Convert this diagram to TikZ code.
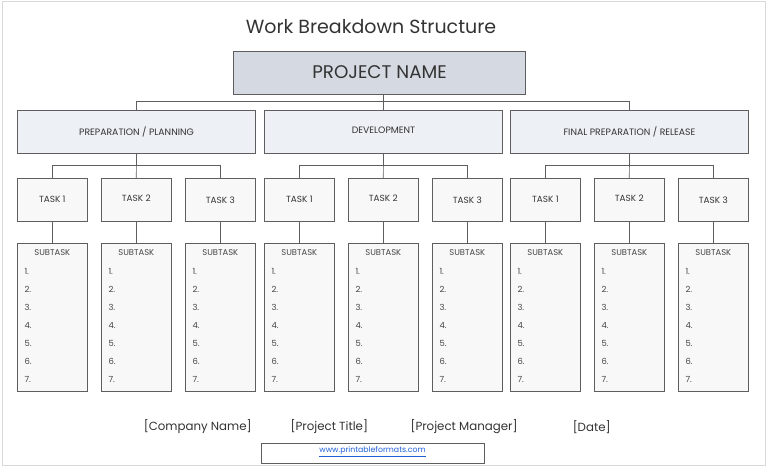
\documentclass[tikz,border=0pt]{standalone}
\usepackage{fontspec}
\setmainfont{Poppins}
\usetikzlibrary{calc}
\definecolor{linec}{HTML}{5E5E5E}
\definecolor{framec}{HTML}{D9D9D9}
\definecolor{projfill}{HTML}{D5DAE2}
\definecolor{lvlfill}{HTML}{EDF0F4}
\definecolor{taskfill}{HTML}{F8F8F8}
\definecolor{txt}{HTML}{333333}
\definecolor{subc}{HTML}{444444}
\definecolor{linkc}{HTML}{1F5FD6}
\tikzset{
  wbsbox/.style={draw=linec, line width=0.8pt, text=txt, inner sep=0pt},
  projbox/.style={wbsbox, fill=projfill, minimum width=292.7pt, minimum height=43pt},
  lvlbox/.style={wbsbox, fill=lvlfill, minimum width=238.4pt, minimum height=43.3pt},
  taskbox/.style={wbsbox, fill=taskfill, minimum width=70pt, minimum height=43pt},
  subbox/.style={wbsbox, fill=taskfill, minimum width=70pt, minimum height=148.4pt},
  lbl/.style={text=txt, inner sep=0pt, font=\fontsize{8.9}{10}\selectfont},
  lvllbl/.style={text=txt, inner sep=0pt, font=\fontsize{9.3}{11}\selectfont},
  subtxt/.style={text=subc, inner sep=0pt, font=\fontsize{8.4}{10}\selectfont},
  conn/.style={draw=linec, line width=0.7pt},
  foot/.style={text=txt, inner sep=0pt, font=\fontsize{11.8}{13}\selectfont},
}
\begin{document}
\begin{tikzpicture}[x=1pt,y=-1pt]
\useasboundingbox (0,0) rectangle (768,467);
\draw[framec, line width=1pt] (2,1.5) rectangle (765.5,465);
\node[text=txt, inner sep=0pt, font=\fontsize{19}{22}\selectfont] (title) at (371,27) {Work Breakdown Structure};
\node[projbox] (proj) at (379.5,72.5) {};
\node[text=txt, inner sep=0pt, font=\fontsize{18.3}{20}\selectfont] (projl) at (379.5,72.5) {PROJECT NAME};
\foreach \g/\s/\lab/\dy in {1/17.3/{PREPARATION / PLANNING}/0, 2/264.3/{DEVELOPMENT}/-1, 3/510.3/{FINAL PREPARATION / RELEASE}/0} {
  \node[lvlbox] (g\g) at (\s+119.2,131.7) {};
  \node[lvllbl] (gl\g) at (\s+119.2,131.7+\dy) {\lab};
  \foreach \t/\ty in {1/199.8,2/197.8,3/199.8} {
    \node[taskbox] (t\g-\t) at (\s+35+84*\t-84,199.8) {};
    \node[lbl] (tl\g-\t) at (\s+35+84*\t-84,\ty) {TASK \t};
    \node[subbox] (s\g-\t) at (\s+35+84*\t-84,317.5) {};
    \node[subtxt] (h\g-\t) at (\s+35+84*\t-84,252.7) {SUBTASK};
    \foreach \n in {1,...,7} {
      \node[subtxt, anchor=west] (n\g-\t-\n) at (\s+84*\t-84+7,271.7+18*\n-18) {\n.};
    }
    \draw[conn] (t\g-\t.south) -- (s\g-\t.north);
  }
  \coordinate (m\g) at ($(g\g.south)+(0,11.7)$);
  \draw[conn] (g\g.south) -- (t\g-2.north);
  \draw[conn] (t\g-1.north) |- (m\g) -| (t\g-3.north);
}
\coordinate (hub) at (383.8,101.7);
\draw[conn] (g2.north) -- (g2.north |- proj.south);
\draw[conn] (g1.north) |- (hub) -| (g3.north);
\node[foot] (f1) at (197.7,426.7) {[Company Name]};
\node[foot] (f2) at (329.3,426.7) {[Project Title]};
\node[foot] (f3) at (464,426.7) {[Project Manager]};
\node[foot] (f4) at (591.7,426.7) {[Date]};
\node[draw=linec, line width=0.8pt, minimum width=223pt, minimum height=20pt, inner sep=0pt] (linkbox) at (372.5,453.3) {};
\node[text=linkc, inner sep=0pt, font=\fontsize{7.8}{9}\selectfont] (link) at (372.5,451.8) {\underline{www.printableformats.com}};
\end{tikzpicture}
\end{document}
